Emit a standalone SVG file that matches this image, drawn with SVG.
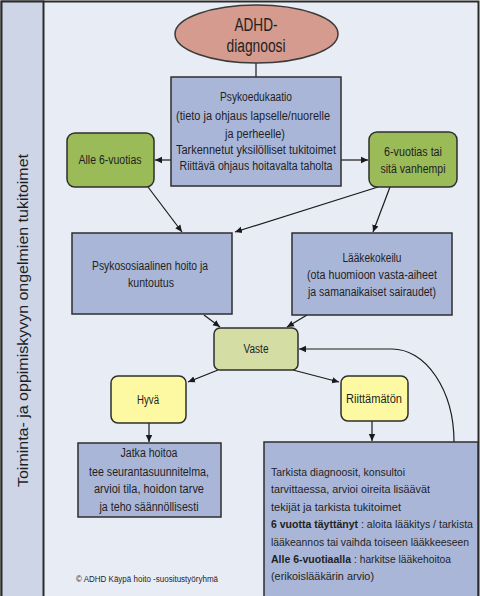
<svg xmlns="http://www.w3.org/2000/svg" width="480" height="596" viewBox="0 0 480 596">
<defs>
<marker id="ah" markerWidth="8" markerHeight="8" refX="7" refY="4" orient="auto" markerUnits="userSpaceOnUse">
<path d="M0,0.8 L7,4 L0,7.2 Z" fill="#1a1a1a"/>
</marker>
<style>
.t{font-family:"Liberation Sans",Arial,sans-serif;font-size:12px;fill:#1f1f1f;text-anchor:middle}
.l{text-anchor:start;font-size:10.8px}
.b{font-weight:bold}
.box{fill:#aab6d7;stroke:#2e2e2e;stroke-width:1.5}
.grn{fill:#9bbb59;stroke:#2e2e2e;stroke-width:1.5}
.vas{fill:#d4dda3;stroke:#2e2e2e;stroke-width:1.5}
.yel{fill:#fdf9a2;stroke:#2e2e2e;stroke-width:1.5}
.c{fill:none;stroke:#1a1a1a;stroke-width:1.2}
</style>
</defs>
<rect x="0" y="0" width="480" height="596" fill="#ffffff"/>
<rect x="1.5" y="1.5" width="477" height="600" fill="#e8ecf5" stroke="#2a2a2a" stroke-width="2"/>
<rect x="1.5" y="1.5" width="42" height="600" fill="#cdd5e7" stroke="#2a2a2a" stroke-width="2"/>
<g id="sidebar">
<text class="t" transform="translate(28,320.5) rotate(-90)" style="font-size:15px" textLength="333" lengthAdjust="spacingAndGlyphs">Toiminta- ja oppimiskyvyn ongelmien tukitoimet</text>
</g>

<g id="connectors">
<line class="c" x1="256" y1="63" x2="256" y2="77"/>
<line class="c" x1="171" y1="160" x2="155" y2="160" marker-end="url(#ah)"/>
<line class="c" x1="341" y1="160" x2="368" y2="160" marker-end="url(#ah)"/>
<line class="c" x1="148" y1="187" x2="182" y2="232" marker-end="url(#ah)"/>
<line class="c" x1="378" y1="187" x2="235" y2="232" marker-end="url(#ah)"/>
<line class="c" x1="390" y1="187" x2="373" y2="232" marker-end="url(#ah)"/>
<line class="c" x1="204" y1="315" x2="220" y2="327" marker-end="url(#ah)"/>
<line class="c" x1="307" y1="315" x2="287" y2="327" marker-end="url(#ah)"/>
<path class="c" d="M454,442 A62,93 0 0 0 392,349 L299,349" marker-end="url(#ah)"/>
<line class="c" x1="218" y1="370" x2="188" y2="382" marker-end="url(#ah)"/>
<line class="c" x1="293" y1="370" x2="339" y2="382" marker-end="url(#ah)"/>
<line class="c" x1="149" y1="423" x2="149" y2="442" marker-end="url(#ah)"/>
<line class="c" x1="372" y1="421" x2="372" y2="441" marker-end="url(#ah)"/>
</g>

<g id="adhd">
<ellipse cx="256.5" cy="34" rx="81.5" ry="29" fill="#d49b8e" stroke="#3a3a3a" stroke-width="1.5"/>
<text class="t" x="256" y="31" style="font-size:18px" textLength="43" lengthAdjust="spacingAndGlyphs">ADHD-</text>
<text class="t" x="256" y="52" style="font-size:18px" textLength="59" lengthAdjust="spacingAndGlyphs">diagnoosi</text>
</g>

<g id="psykoedukaatio">
<rect class="box" x="171" y="77" width="170" height="109"/>
<text class="t" x="256" y="101" textLength="72" lengthAdjust="spacingAndGlyphs">Psykoedukaatio</text>
<text class="t" x="253" y="120" textLength="154" lengthAdjust="spacingAndGlyphs">(tieto ja ohjaus lapselle/nuorelle</text>
<text class="t" x="255" y="138" textLength="60" lengthAdjust="spacingAndGlyphs">ja perheelle)</text>
<text class="t" x="256" y="154" textLength="160" lengthAdjust="spacingAndGlyphs">Tarkennetut yksilölliset tukitoimet</text>
<text class="t" x="256" y="170" textLength="153" lengthAdjust="spacingAndGlyphs">Riittävä ohjaus hoitavalta taholta</text>
</g>

<g id="alle6">
<rect class="grn" x="67" y="133" width="87" height="54" rx="8"/>
<text class="t" x="110" y="164" textLength="63" lengthAdjust="spacingAndGlyphs">Alle 6-vuotias</text>
</g>

<g id="yli6">
<rect class="grn" x="369" y="132" width="88" height="55" rx="8"/>
<text class="t" x="413" y="156" textLength="58" lengthAdjust="spacingAndGlyphs">6-vuotias tai</text>
<text class="t" x="413" y="173" textLength="65" lengthAdjust="spacingAndGlyphs">sitä vanhempi</text>
</g>

<g id="psykososiaalinen">
<rect class="box" x="72" y="233" width="160" height="81"/>
<text class="t" x="150" y="270" textLength="116" lengthAdjust="spacingAndGlyphs">Psykososiaalinen hoito ja</text>
<text class="t" x="151" y="287" textLength="46" lengthAdjust="spacingAndGlyphs">kuntoutus</text>
</g>

<g id="laakekokeilu">
<rect class="box" x="292" y="233" width="160" height="82"/>
<text class="t" x="372" y="262" textLength="59" lengthAdjust="spacingAndGlyphs">Lääkekokeilu</text>
<text class="t" x="372" y="279" textLength="130" lengthAdjust="spacingAndGlyphs">(ota huomioon vasta-aiheet</text>
<text class="t" x="372" y="296" textLength="128" lengthAdjust="spacingAndGlyphs">ja samanaikaiset sairaudet)</text>
</g>

<g id="vaste">
<rect class="vas" x="214" y="328" width="84" height="42" rx="6"/>
<text class="t" x="256" y="353" textLength="25" lengthAdjust="spacingAndGlyphs">Vaste</text>
</g>

<g id="hyva">
<rect class="yel" x="111" y="376" width="75" height="47" rx="7"/>
<text class="t" x="148" y="404" textLength="22" lengthAdjust="spacingAndGlyphs">Hyvä</text>
</g>

<g id="riittamaton">
<rect class="yel" x="341" y="376" width="67" height="45" rx="7"/>
<text class="t" x="374" y="403" textLength="56" lengthAdjust="spacingAndGlyphs">Riittämätön</text>
</g>

<g id="jatka">
<rect class="box" x="78" y="443" width="143" height="74"/>
<text class="t" x="149" y="457" textLength="57" lengthAdjust="spacingAndGlyphs">Jatka hoitoa</text>
<text class="t" x="149" y="476" textLength="120" lengthAdjust="spacingAndGlyphs">tee seurantasuunnitelma,</text>
<text class="t" x="149" y="493" textLength="110" lengthAdjust="spacingAndGlyphs">arvioi tila, hoidon tarve</text>
<text class="t" x="149" y="511" textLength="99" lengthAdjust="spacingAndGlyphs">ja teho säännöllisesti</text>
</g>

<g id="tarkista">
<rect class="box" x="264" y="442" width="214" height="170"/>
<text class="t l" x="271" y="476" textLength="134" lengthAdjust="spacingAndGlyphs">Tarkista diagnoosit, konsultoi</text>
<text class="t l" x="271" y="493" textLength="159" lengthAdjust="spacingAndGlyphs">tarvittaessa, arvioi oireita lisäävät</text>
<text class="t l" x="271" y="511" textLength="130" lengthAdjust="spacingAndGlyphs">tekijät ja tarkista tukitoimet</text>
<text class="t l b" x="271" y="528" textLength="87" lengthAdjust="spacingAndGlyphs">6 vuotta täyttänyt</text>
<text class="t l" x="361" y="528" textLength="112" lengthAdjust="spacingAndGlyphs">: aloita lääkitys / tarkista</text>
<text class="t l" x="271" y="546" textLength="198" lengthAdjust="spacingAndGlyphs">lääkeannos tai vaihda toiseen lääkkeeseen</text>
<text class="t l b" x="271" y="563" textLength="80" lengthAdjust="spacingAndGlyphs">Alle 6-vuotiaalla</text>
<text class="t l" x="354" y="563" textLength="97" lengthAdjust="spacingAndGlyphs">: harkitse lääkehoitoa</text>
<text class="t l" x="271" y="580" textLength="103" lengthAdjust="spacingAndGlyphs">(erikoislääkärin arvio)</text>
</g>

<g id="copyright">
<text class="t" x="147" y="582" style="font-size:8.5px" textLength="142" lengthAdjust="spacingAndGlyphs">© ADHD Käypä hoito -suositustyöryhmä</text>
</g>
</svg>
